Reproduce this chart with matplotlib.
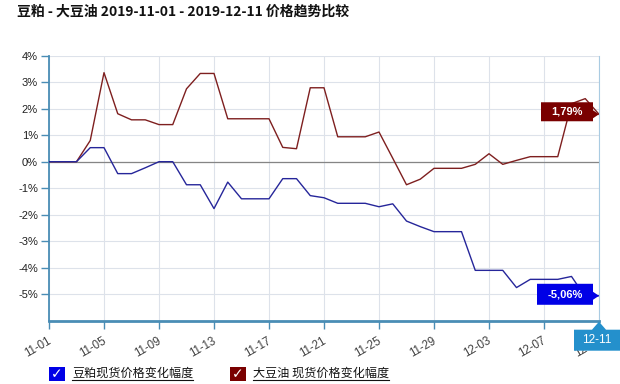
import matplotlib
matplotlib.use("Agg")
import matplotlib.pyplot as plt
import matplotlib.transforms as mtransforms
from matplotlib.patches import Polygon, Rectangle
from matplotlib.lines import Line2D
import pandas as pd
import numpy as np

plt.rcParams['font.family'] = ['Liberation Sans', 'Noto Sans CJK SC', 'DejaVu Sans']

title = "豆粕 - 大豆油 2019-11-01 - 2019-12-11 价格趋势比较"
dates = pd.date_range("2019-11-01", "2019-12-11", freq="D")

soymeal = [0, 0, 0, 0.53, 0.53, -0.45, -0.45, -0.23, 0, 0,
           -0.87, -0.87, -1.77, -0.77, -1.40, -1.40, -1.40, -0.64, -0.64, -1.28,
           -1.36, -1.57, -1.57, -1.57, -1.70, -1.59, -2.24, -2.45, -2.64, -2.64,
           -2.64, -4.10, -4.10, -4.10, -4.75, -4.44, -4.44, -4.44, -4.33, -5.10, -5.06]
soyoil = [0, 0, 0, 0.80, 3.36, 1.81, 1.58, 1.58, 1.40, 1.40,
          2.75, 3.33, 3.33, 1.62, 1.62, 1.62, 1.62, 0.54, 0.49, 2.79,
          2.79, 0.94, 0.94, 0.94, 1.12, 0.13, -0.87, -0.66, -0.25, -0.25,
          -0.25, -0.10, 0.30, -0.10, 0.05, 0.19, 0.19, 0.19, 2.19, 2.38, 1.79]
series_names = ["豆粕现货价格变化幅度", "大豆油 现货价格变化幅度"]
last_labels = ["-5,06%", "1,79%"]
yticks = [-5, -4, -3, -2, -1, 0, 1, 2, 3, 4]
xtick_dates = pd.date_range("2019-11-01", "2019-12-11", freq="4D")

blue_line = "#26269a"
red_line = "#7e1f1f"
blue_box = "#0000e6"
red_box = "#7a0000"
axis_col = "#4a8db5"
grid_col = "#dde2ea"

fig = plt.figure(figsize=(6.2, 3.84), dpi=100)
ax = fig.add_axes([49 / 620, 1 - 320.7 / 384, 550 / 620, (320.7 - 55.7) / 384])

x = np.array([(d - dates[0]).days for d in dates])
ax.set_xlim(0, x[-1])
ax.set_ylim(-6, 4)

ax.set_yticks(yticks)
ax.set_yticklabels([f"{v}%" for v in yticks])
xt = [(d - dates[0]).days for d in xtick_dates]
ax.set_xticks(xt)
ax.set_xticklabels([d.strftime("%m-%d") for d in xtick_dates], rotation=30,
                   ha="right", va="top", rotation_mode="anchor", color="#404040")
ax.tick_params(axis="x", length=6, width=1, color=axis_col, labelsize=8.3, pad=4)
ax.tick_params(axis="y", length=6, width=1, color=axis_col, labelsize=8, pad=2,
               labelcolor="#202020")
off = mtransforms.ScaledTranslation(-2 / 100, 0, fig.dpi_scale_trans)
for lab in ax.get_xticklabels():
    lab.set_transform(lab.get_transform() + off)

ax.grid(True, color=grid_col, linewidth=0.8)
ax.set_axisbelow(True)
ax.spines["top"].set_visible(False)
ax.spines["left"].set_color(axis_col)
ax.spines["left"].set_linewidth(1.3)
ax.spines["bottom"].set_color(axis_col)
ax.spines["bottom"].set_linewidth(2.0)
ax.spines["right"].set_color("#a9cbe2")
ax.spines["right"].set_linewidth(0.8)

ax.axhline(0, color="#858585", linewidth=0.9, zorder=1.5)

ax.plot(x, soyoil, color=red_line, linewidth=1.0, zorder=3)
ax.plot(x, soymeal, color=blue_line, linewidth=1.0, zorder=3)

px = 1 / fig.dpi

def end_label(yval, text, color, left, top, bottom):
    trans = fig.dpi_scale_trans + mtransforms.ScaledTranslation(x[-1], yval, ax.transData)
    box = Polygon([(left * px, bottom * px), (-6 * px, bottom * px), (-6 * px, -4 * px),
                   (0, 0), (-6 * px, 4 * px), (-6 * px, top * px), (left * px, top * px)],
                  closed=True, transform=trans, facecolor=color, edgecolor="none",
                  zorder=5, clip_on=False)
    ax.add_patch(box)
    ax.text((left - 6) / 2 * px, (top + bottom) / 2 * px, text, transform=trans,
            ha="center", va="center", color="white", fontsize=8, fontweight="bold",
            zorder=6, clip_on=False)

end_label(soyoil[-1], last_labels[1], red_box, -58, 12, -7)
end_label(soymeal[-1], last_labels[0], blue_box, -62, 12, -9)

# highlighted last date box
trans = fig.dpi_scale_trans + mtransforms.ScaledTranslation(x[-1], -6, ax.transData)
hb = Polygon([(-25 * px, -9 * px), (-7 * px, -9 * px), (0, -1 * px), (7 * px, -9 * px),
              (25 * px, -9 * px), (25 * px, -30 * px), (-25 * px, -30 * px)],
             closed=True, transform=trans, facecolor="#2490cc", edgecolor="none",
             zorder=10, clip_on=False)
ax.add_patch(hb)
ax.text(-2 * px, -19.5 * px, dates[-1].strftime("%m-%d"), transform=trans,
        ha="center", va="center", color="white", fontsize=8.5, zorder=11, clip_on=False)

# title
fig.text(17 / 620, 1 - 12 / 384, title, ha="left", va="center", fontsize=10,
         fontweight="bold", family=["Noto Sans CJK SC", "DejaVu Sans"], color="#111111")

# legend
leg_items = [(49, blue_box, series_names[0]), (230, red_box, series_names[1])]
texts = []
for lx, col, name in leg_items:
    r = Rectangle((lx / 620, 1 - 381 / 384), 16 / 620, 14 / 384, transform=fig.transFigure,
                  facecolor=col, edgecolor="none")
    fig.patches.append(r)
    fig.text((lx + 8) / 620, 1 - 374 / 384, "✓", ha="center", va="center",
             color="white", fontsize=10, fontweight="bold", family=["DejaVu Sans"])
    t = fig.text((lx + 23) / 620, 1 - 373 / 384, name, ha="left", va="center",
                 fontsize=8.7, family=["Noto Sans CJK SC", "DejaVu Sans"], color="#111111")
    texts.append(t)

fig.canvas.draw()
r = fig.canvas.get_renderer()
for t in texts:
    bb = t.get_window_extent(renderer=r)
    yline = (384 - 380) / 384
    fig.lines.append(Line2D([bb.x0 / 620, bb.x1 / 620], [yline, yline],
                            transform=fig.transFigure, color="#111111", linewidth=0.8))

fig.savefig("out.png", dpi=100)
